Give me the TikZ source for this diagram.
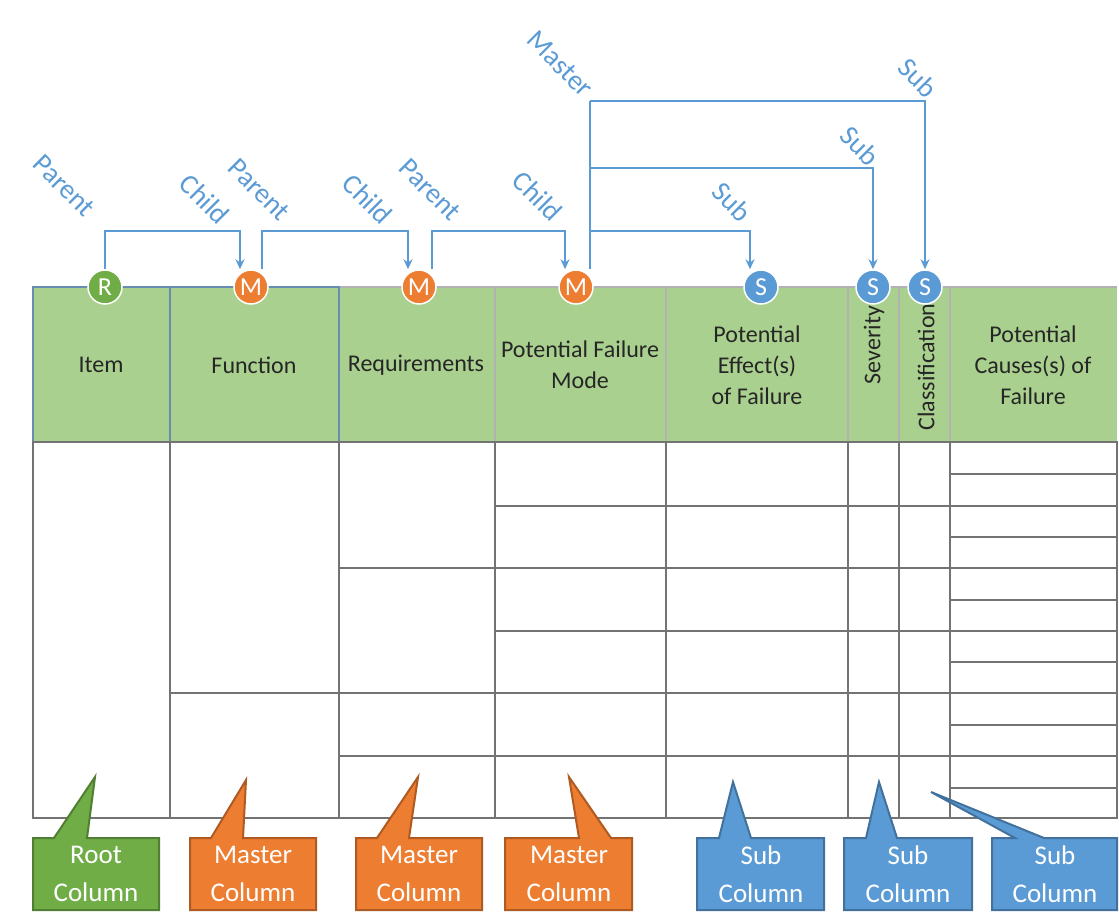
\documentclass[tikz,border=0pt]{standalone}
\usepackage{fontspec}
\setmainfont{Carlito}
\usetikzlibrary{arrows.meta}
\begin{document}
\begin{tikzpicture}[x=1pt,y=-1pt,
  grid/.style={draw=gray!90!black,line width=1.6pt},
  htxt/.style={font=\fontsize{24}{31}\selectfont,align=center,text=black!85,inner sep=1pt},
  conn/.style={draw=linkblue,line width=2.6pt},
  arr/.style={conn,-{Stealth[length=10pt,width=9pt]}},
  lbl/.style={text=linkblue,font=\fontsize{28}{30}\selectfont,rotate=-45,inner sep=0pt},
  circ/.style={circle,minimum size=34pt,inner sep=0pt,line width=1.5pt,text=white,font=\fontsize{26}{26}\selectfont},
  ctxt/.style={text=white,font=\fontsize{27}{38}\selectfont,align=center}]
\definecolor{hdrgreen}{RGB}{169,208,142}
\definecolor{linkblue}{RGB}{91,155,213}
\definecolor{gfill}{RGB}{112,173,71}\definecolor{gdraw}{RGB}{80,126,50}
\definecolor{ofill}{RGB}{237,125,49}\definecolor{odraw}{RGB}{174,90,33}
\definecolor{bfill}{RGB}{91,155,213}\definecolor{bdraw}{RGB}{65,113,156}
\useasboundingbox (0,0) rectangle (1119,920);
% header
\fill[hdrgreen] (33,287) rectangle (1117,442);
\foreach \x in {495,666,848,899,950}{\draw[gray!60,line width=1.3pt] (\x,287)--(\x,442);}
\draw[gray!60,line width=1.3pt] (339,287)--(1117,287) (339,442)--(1117,442);
\draw[bdraw!80,line width=2pt] (33,287) rectangle (170,442) (170,287) rectangle (339,442);
\node[htxt] (hItem) at (101,365) {Item};
\node[htxt] (hFun) at (254,365) {Function};
\node[htxt] (hReq) at (416,365) {Requirements};
\node[htxt] (hMode) at (580,365) {Potential Failure\\Mode};
\node[htxt] (hEff) at (757,365) {Potential\\Effect(s)\\of Failure};
\node[htxt,rotate=90] (hSev) at (874,345) {Severity};
\node[htxt,rotate=90] (hCls) at (926,367) {Classification};
\node[htxt] (hCau) at (1033,365) {Potential\\Causes(s) of\\Failure};
% table body
\draw[grid] (33,442) rectangle (170,818);
\draw[grid] (170,442) rectangle (339,818);
\draw[grid] (170,693)--(339,693);
\draw[grid] (339,442) rectangle (495,818);
\foreach \y in {568,693,756}{\draw[grid] (339,\y)--(495,\y);}
\foreach \a/\b in {495/666,666/848,848/899,899/950}{
  \draw[grid] (\a,442) rectangle (\b,818);
  \foreach \y in {506,568,631,693,756}{\draw[grid] (\a,\y)--(\b,\y);}}
\draw[grid] (950,442) rectangle (1117,818);
\foreach \y in {474,506,537,568,600,631,662,693,725,756,788}{\draw[grid] (950,\y)--(1117,\y);}
% circles
\node[circ,fill=gfill,draw=white] (R) at (105,287) {R};
\node[circ,fill=ofill,draw=white] (M1) at (251,287) {M};
\node[circ,fill=ofill,draw=white] (M2) at (419,287) {M};
\node[circ,fill=ofill,draw=white] (M3) at (576,287) {M};
\node[circ,fill=bfill,draw=white] (S1) at (761,287) {S};
\node[circ,fill=bfill,draw=white] (S2) at (873,287) {S};
\node[circ,fill=bfill,draw=white] (S3) at (925,287) {S};
\coordinate (x240) at (240,0);\coordinate (x262) at (262,0);
\coordinate (x408) at (408,0);\coordinate (x432) at (432,0);
\coordinate (x565) at (565,0);\coordinate (x590) at (590,0);
\coordinate (x750) at (750,0);
\coordinate (j1) at (590,101);\coordinate (j2) at (590,168);\coordinate (j3) at (590,231);
% connectors
\draw[arr] (R.north) |- (240,231) -- (M1.north -| x240);
\draw[arr] (M1.north -| x262) |- (408,231) -- (M2.north -| x408);
\draw[arr] (M2.north -| x432) |- (565,231) -- (M3.north -| x565);
\draw[conn] (M3.north -| x590) -- (j1);
\draw[arr] (j1) -| (S3.north);
\draw[arr] (j2) -| (S2.north);
\draw[arr] (j3) -| (S1.north -| x750);
% labels
\node[lbl] (l1) at (64,186) {Parent};
\node[lbl] (l2) at (205,199) {Child};
\node[lbl] (l3) at (259,190) {Parent};
\node[lbl] (l4) at (368,199) {Child};
\node[lbl] (l5) at (430,190) {Parent};
\node[lbl] (l6) at (538,196) {Child};
\node[lbl] (l7) at (732,202) {Sub};
\node[lbl] (l8) at (860,146) {Sub};
\node[lbl] (l9) at (560,64) {Master};
\node[lbl] (l10) at (918,78) {Sub};
% callouts
\draw[fill=gfill,draw=gdraw,line width=2pt] (33,838)--(54,838)--(95,777)--(87,838)--(159,838)--(159,910)--(33,910)--cycle;
\node[ctxt] (c1) at (96,874) {Root\\Column};
\draw[fill=ofill,draw=odraw,line width=2pt] (190,838)--(211,838)--(246,780)--(243,838)--(316,838)--(316,910)--(190,910)--cycle;
\node[ctxt] (c2) at (253,874) {Master\\Column};
\draw[fill=ofill,draw=odraw,line width=2pt] (356,838)--(377,838)--(418,777)--(409,838)--(482,838)--(482,910)--(356,910)--cycle;
\node[ctxt] (c3) at (419,874) {Master\\Column};
\draw[fill=ofill,draw=odraw,line width=2pt] (505,838)--(579,838)--(569,777)--(611,838)--(632,838)--(632,910)--(505,910)--cycle;
\node[ctxt] (c4) at (569,874) {Master\\Column};
\draw[fill=bfill,draw=bdraw,line width=2pt] (697,838)--(719,838)--(733,782)--(751,838)--(824,838)--(824,910)--(697,910)--cycle;
\node[ctxt] (c5) at (761,874) {Sub\\Column};
\draw[fill=bfill,draw=bdraw,line width=2pt] (844,838)--(866,838)--(879,782)--(897,838)--(972,838)--(972,910)--(844,910)--cycle;
\node[ctxt] (c6) at (908,874) {Sub\\Column};
\draw[fill=bfill,draw=bdraw,line width=2pt] (992,838)--(1015,838)--(931,792)--(1044,838)--(1117,838)--(1117,910)--(992,910)--cycle;
\node[ctxt] (c7) at (1055,874) {Sub\\Column};
\end{tikzpicture}
\end{document}
